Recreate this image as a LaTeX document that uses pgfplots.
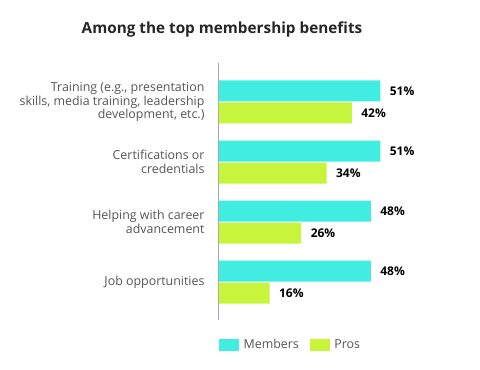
\documentclass[border=0pt]{standalone}
\usepackage{pgfplots}
\pgfplotsset{compat=1.18}
\usepackage{fontspec}
\setmainfont{Open Sans}
\definecolor{mem}{HTML}{40EDE0}
\definecolor{pro}{HTML}{C6F53C}
\definecolor{txt}{HTML}{555555}
\begin{document}
\begin{tikzpicture}[x=1pt,y=1pt]
\useasboundingbox (0,0) rectangle (480,370);
\node[font=\bfseries\fontsize{15.3}{18}\selectfont, text=black!85] at (222,341) {Among the top membership benefits};
\begin{axis}[
  at={(219pt,50pt)}, anchor=south west,
  scale only axis, width=253pt, height=257pt,
  xmin=0, xmax=80, ymin=-0.633, ymax=3.65,
  axis x line=none, axis y line=left,
  y axis line style={-, draw=gray!70, line width=1pt},
  xbar, bar width=21pt,
  ytick={0,1,2,3},
  yticklabels={{Job opportunities},{Helping with career\\advancement},{Certifications or\\credentials},{Training (e.g., presentation\\skills, media training, leadership\\development, etc.)}},
  yticklabel style={align=right, font=\fontsize{12.4}{13.4}\selectfont, text=txt, xshift=-11pt},
  major tick length=0pt,
  /pgf/number format/assume math mode=true,
  nodes near coords={\pgfmathprintnumber{\pgfplotspointmeta}\%},
  every node near coord/.append style={font=\bfseries\fontsize{12}{13}\selectfont, text=black, anchor=west, xshift=6pt},
  legend style={at={(axis description cs:0,0)}, anchor=north west, xshift=-3pt, yshift=-15pt, draw=none, legend columns=2, font=\fontsize{12.4}{14}\selectfont, text=txt, /tikz/every even column/.append style={column sep=9pt}},
  legend image code/.code={\draw[#1, draw=none] (0pt,-6pt) rectangle (20pt,6pt);},
]
\addplot[fill=mem, draw=none, bar shift=11pt] coordinates {(51,3) (51,2) (48,1) (48,0)};
\addplot[fill=pro, draw=none, bar shift=-11pt] coordinates {(42,3) (34,2) (26,1) (16,0)};
\legend{\hspace{2.5pt}Members, \hspace{2.5pt}Pros}
\end{axis}
\end{tikzpicture}
\end{document}
